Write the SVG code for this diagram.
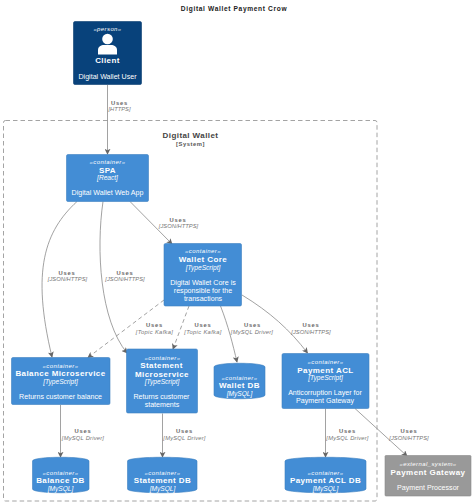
<svg xmlns="http://www.w3.org/2000/svg" width="474" height="504" viewBox="0 0 474 504">
<style>
text{font-family:"Liberation Sans",Arial,sans-serif;text-anchor:middle}
.n{fill:#438dd5;stroke:#3c7fc0;stroke-width:.6}
.c{fill:#fff}
.st{font-size:6px;font-style:italic;letter-spacing:.4px;fill:#fff}
.nm{font-size:8px;font-weight:bold;letter-spacing:.42px;fill:#fff}
.te{font-size:6.6px;font-style:italic;fill:#fff}
.d{font-size:7.1px;fill:#fff}
.u{font-size:5.8px;font-weight:bold;letter-spacing:.8px;fill:#666}
.t{font-size:5.8px;font-style:italic;fill:#777}
.k{letter-spacing:.33px}
.m{letter-spacing:.2px}
.l{fill:none;stroke:#8a8a8a;stroke-width:.8}
.dl{stroke-dasharray:4 3}
</style>
<defs><marker id="a" viewBox="0 0 8 8" refX="7" refY="4" markerWidth="6" markerHeight="6" markerUnits="userSpaceOnUse" orient="auto"><path d="M0 0L8 4L0 8L2 4Z" fill="#666"/></marker></defs>
<text x="234" y="11" style="font-size:6.6px;font-weight:bold;letter-spacing:.65px" fill="#222">Digital Wallet Payment Crow</text>
<g id="boundary">
<rect x="3.500" y="120.500" width="373.500" height="380.500" rx="2" fill="none" stroke="#9a9a9a" stroke-width=".9" stroke-dasharray="4.500 3"/>
<text x="190.500" y="138" style="font-size:8px;font-weight:bold;letter-spacing:.42px" fill="#444">Digital Wallet</text>
<text x="190.500" y="145.500" style="font-size:5.800px;font-weight:bold;letter-spacing:.55px" fill="#555">[System]</text>
</g>
<g id="connectors">
<path class="l" marker-end="url(#a)" d="M107.500 85V154"/>
<path class="l" marker-end="url(#a)" d="M77 201.500C45 231 31 270 52 357"/>
<path class="l" marker-end="url(#a)" d="M103 201.500C96 250 100 320 127 353"/>
<path class="l" marker-end="url(#a)" d="M130 201.500L172 244"/>
<path class="l dl" marker-end="url(#a)" d="M164 300L88 357.500"/>
<path class="l dl" marker-end="url(#a)" d="M189 306L173 349"/>
<path class="l" marker-end="url(#a)" d="M220.500 306C228 325 233 345 237 362"/>
<path class="l" marker-end="url(#a)" d="M242 295C270 312 290 330 307.500 353"/>
<path class="l" marker-end="url(#a)" d="M60.500 405V457"/>
<path class="l" marker-end="url(#a)" d="M162.500 413.500V457"/>
<path class="l" marker-end="url(#a)" d="M325.500 408.500V457"/>
<path class="l" marker-end="url(#a)" d="M355 408.500L407 456"/>
<text class="u" x="119.500" y="104.500">Uses</text><text class="t" x="119.500" y="111">[HTTPS]</text>
<text class="u" x="178" y="221.500">Uses</text><text class="t" x="178.500" y="228">[JSON/HTTPS]</text>
<text class="u" x="67" y="274.500">Uses</text><text class="t" x="67.500" y="281">[JSON/HTTPS]</text>
<text class="u" x="125" y="274.500">Uses</text><text class="t" x="125" y="281">[JSON/HTTPS]</text>
<text class="u" x="154.500" y="327">Uses</text><text class="t k" x="154.500" y="333.500">[Topic Kafka]</text>
<text class="u" x="203" y="327">Uses</text><text class="t k" x="203" y="333.500">[Topic Kafka]</text>
<text class="u" x="252.500" y="327">Uses</text><text class="t m" x="252" y="333.500">[MySQL Driver]</text>
<text class="u" x="311" y="327">Uses</text><text class="t" x="311" y="333.500">[JSON/HTTPS]</text>
<text class="u" x="83" y="433">Uses</text><text class="t m" x="83" y="440">[MySQL Driver]</text>
<text class="u" x="184.500" y="433">Uses</text><text class="t m" x="184.500" y="440">[MySQL Driver]</text>
<text class="u" x="347.500" y="433">Uses</text><text class="t m" x="347.500" y="440">[MySQL Driver]</text>
<text class="u" x="409" y="433">Uses</text><text class="t" x="409" y="440">[JSON/HTTPS]</text>
</g>
<g id="client">
<rect x="73.500" y="21.500" width="68" height="63" rx="1.500" fill="#08427b" stroke="#073b6f" stroke-width=".6"/>
<text class="st" x="107.500" y="31">«person»</text>
<circle class="c" cx="107.500" cy="39" r="5.300"/>
<path class="c" d="M98 54.500V50C98 46.500 101 45 104 45H111C114 45 117 46.500 117 50V54.500Z"/>
<text class="nm" x="107.500" y="62.500">Client</text>
<text class="d" x="107.500" y="78.500">Digital Wallet User</text>
</g>
<g id="spa">
<rect class="n" x="66.500" y="154.500" width="82" height="47" rx="1.500"/>
<text class="st" x="107.500" y="164">«container»</text>
<text class="nm" x="107.500" y="172.500">SPA</text>
<text class="te" x="107.500" y="180">[React]</text>
<text class="d" x="107.500" y="195">Digital Wallet Web App</text>
</g>
<g id="wallet-core">
<rect class="n" x="164" y="243.500" width="77.500" height="62.500" rx="1.500"/>
<text class="st" x="203" y="253">«container»</text>
<text class="nm" x="203" y="261.500">Wallet Core</text>
<text class="te" x="203" y="269.500">[TypeScript]</text>
<text class="d" x="203" y="284.800">Digital Wallet Core is</text>
<text class="d" x="203" y="292.800">responsible for the</text>
<text class="d" x="203" y="300.800">transactions</text>
</g>
<g id="balance">
<rect class="n" x="11.500" y="357.500" width="98.500" height="47" rx="1.500"/>
<text class="st" x="60.500" y="367.500">«container»</text>
<text class="nm" x="60.500" y="376">Balance Microservice</text>
<text class="te" x="60.500" y="383.500">[TypeScript]</text>
<text class="d" x="60.500" y="398.800">Returns customer balance</text>
</g>
<g id="statement">
<rect class="n" x="126.500" y="349" width="71" height="64" rx="1.500"/>
<text class="st" x="162.500" y="359.500">«container»</text>
<text class="nm" x="161.500" y="368">Statement</text>
<text class="nm" x="162" y="377">Microservice</text>
<text class="te" x="162" y="384.300">[TypeScript]</text>
<text class="d" x="161.500" y="399.300">Returns customer</text>
<text class="d" x="162" y="407.300">statements</text>
</g>
<g id="payment-acl">
<rect class="n" x="282" y="353.500" width="87" height="55" rx="1.500"/>
<text class="st" x="325.500" y="364">«container»</text>
<text class="nm" x="325.500" y="372.500">Payment ACL</text>
<text class="te" x="325.500" y="380">[TypeScript]</text>
<text class="d" x="325" y="395">Anticorruption Layer for</text>
<text class="d" x="325" y="402.800">Payment Gateway</text>
</g>
<g id="wallet-db">
<path class="n" d="M214 367C214 362 265 362 265 367V395C265 400 214 400 214 395Z"/>
<text class="st" x="239.500" y="380">«container»</text>
<text class="nm" x="239.500" y="388">Wallet DB</text>
<text class="te" x="239.500" y="396">[MySQL]</text>
</g>
<g id="balance-db">
<path class="n" d="M32.500 461C32.500 456 89 456 89 461V489C89 494 32.500 494 32.500 489Z"/>
<text class="st" x="60.500" y="474.500">«container»</text>
<text class="nm" x="60.500" y="483">Balance DB</text>
<text class="te" x="60.500" y="490.500">[MySQL]</text>
</g>
<g id="statement-db">
<path class="n" d="M127.500 461C127.500 456 197 456 197 461V489C197 494 127.500 494 127.500 489Z"/>
<text class="st" x="162.500" y="474.500">«container»</text>
<text class="nm" x="162.500" y="483">Statement DB</text>
<text class="te" x="162.500" y="490.500">[MySQL]</text>
</g>
<g id="payment-acl-db">
<path class="n" d="M285 461C285 456 366 456 366 461V489C366 494 285 494 285 489Z"/>
<text class="st" x="325.500" y="474.500">«container»</text>
<text class="nm" x="325.500" y="483">Payment ACL DB</text>
<text class="te" x="325.500" y="490.500">[MySQL]</text>
</g>
<g id="payment-gateway">
<rect x="385" y="455.500" width="86" height="40.500" rx="1" fill="#999" stroke="#8a8a8a" stroke-width=".6"/>
<text class="st" x="428" y="466">«external_system»</text>
<text class="nm" x="428" y="474.500">Payment Gateway</text>
<text class="d" x="428" y="489.500">Payment Processor</text>
</g>
</svg>
